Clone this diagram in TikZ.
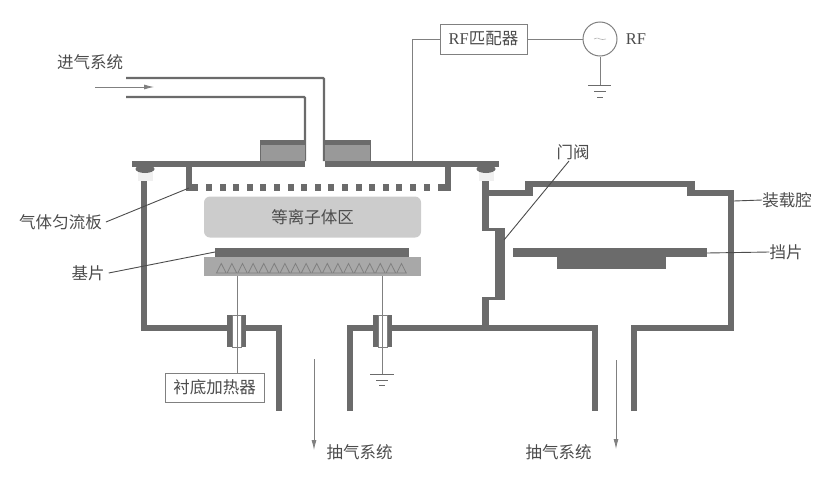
\documentclass[tikz,border=0pt]{standalone}
\usepackage{fontspec}
\setmainfont{Liberation Serif}
\newfontfamily\cjk{Noto Sans CJK SC}
\usetikzlibrary{arrows.meta}
\definecolor{wallc}{gray}{0.42}
\definecolor{thinc}{gray}{0.5}
\definecolor{inkc}{gray}{0.3}
\definecolor{blockc}{gray}{0.6}
\definecolor{heatc}{gray}{0.66}
\definecolor{plasmac}{gray}{0.8}
\tikzset{
  wall/.style={draw=wallc,line width=6.4pt,miter limit=10},
  thinwall/.style={draw=wallc,line width=2.2pt},
  wire/.style={draw=thinc,line width=0.8pt},
  leader/.style={draw=inkc,line width=0.9pt},
  flow/.style={draw=thinc,line width=0.8pt,-{Latex[length=10pt,width=5pt]}},
  lab/.style={font=\cjk\fontsize{16.5}{18}\selectfont,text=inkc,inner sep=0pt},
  boxed/.style={lab,draw=thinc,line width=1pt,fill=white,align=center},
  solid block/.style={fill=wallc,draw=none},
  tri/.style={draw=thinc,line width=0.8pt},
}
\begin{document}
\begin{tikzpicture}[x=1pt,y=-1pt]
\useasboundingbox (0,0) rectangle (819,479);
% gas inlet pipe
\draw[thinwall,rounded corners=1pt] (126,78) -- (324,78) -- (324,161);
\draw[thinwall,rounded corners=1pt] (126,97) -- (305,97) -- (305,161);
\coordinate (inS) at (95,87); \coordinate (inE) at (154,87);
\draw[flow] (inS) -- (inE);
\node[lab] (inlet) at (90,62) {进气系统};
% lid blocks
\fill[blockc] (260,140) rectangle (305,161);
\fill[blockc] (325,140) rectangle (371,161);
\fill[solid block] (260,140) rectangle (305,145);
\fill[solid block] (325,140) rectangle (371,145);
\draw[wallc,line width=1.5pt] (260.7,140) -- (260.7,161) (370.3,140) -- (370.3,161);
% lid
\fill[solid block] (132,161) rectangle (305,166.5);
\fill[solid block] (325,161) rectangle (499,166.5);
% seals
\fill[gray!12] (138,172) rectangle (153,181);
\fill[gray!12] (479,172) rectangle (494,181);
\fill[wallc] (145,169) ellipse [x radius=9.5,y radius=4];
\fill[wallc] (486,169) ellipse [x radius=9.5,y radius=4];
% shower plate
\fill[solid block] (186,166) rectangle (192,190);
\fill[solid block] (186,184) rectangle (198,190.5);
\fill[solid block] (445,166) rectangle (451,190);
\fill[solid block] (438,184) rectangle (451,190.5);
\foreach \k in {0,...,16}
  \fill[solid block] ({206+13.6*\k},184) rectangle ++(6,6.5);
\coordinate (plateEnd) at (189,188);
% plasma
\node[fill=plasmac,rounded corners=6pt,minimum width=217pt,minimum height=41pt,inner sep=0pt] (plasma) at (312.5,217) {};
\node[lab] at (plasma.center) {等离子体区};
% substrate and heater
\fill[heatc] (204,257) rectangle (421,275.5);
\fill[solid block] (215,248) rectangle (409,257);
\coordinate (subEnd) at (215,252);
\foreach \k in {0,...,17}
  \draw[tri] ({216.5+10.6*\k},273) -- ++(4.8,-9.5) -- ++(4.8,9.5) -- cycle;
% chamber walls
\draw[wall] (144,181) -- (144,328) -- (227,328);
\draw[wall] (246,328) -- (279,328) -- (279,411);
\draw[wall] (350,411) -- (350,328) -- (373,328);
\draw[wall] (392,328) -- (595,328) -- (595,411);
\draw[wall] (634,411) -- (634,328) -- (731,328) -- (731,193) -- (690,193);
\draw[wall] (485,193) -- (527,193);
\fill[solid block] (525,181) rectangle (695,187);
\fill[solid block] (525,181) rectangle (533,196);
\fill[solid block] (687,181) rectangle (695,196);
% load-lock wall with gate valve
\draw[wall] (485.5,181) -- (485.5,229);
\draw[wall] (485.5,298) -- (485.5,328);
\fill[solid block] (482.3,227.5) rectangle (504.5,230.5);
\fill[solid block] (494.5,227.5) rectangle (504.5,299.5);
\fill[solid block] (482.3,296.5) rectangle (504.5,299.5);
% shutter
\fill[solid block] (513,248) rectangle (707,256.5);
\fill[solid block] (557,248) rectangle (666,269);
\coordinate (shutterEnd) at (707,253);
% feedthrough flanges
\fill[solid block] (227,315) rectangle (246,347);
\fill[solid block] (373,315) rectangle (392,347);
\draw[fill=white,draw=thinc,line width=0.5pt] (232.5,315) rectangle (241,347);
\draw[fill=white,draw=thinc,line width=0.5pt] (378.5,315) rectangle (387,347);
% heater box and feedthrough wires
\node[boxed,minimum width=99pt,minimum height=29pt] (heater) at (214.5,387.5) {衬底加热器};
\coordinate (hTop) at (237,275.5);
\coordinate (hBot) at (237,373);
\draw[wire] (hTop) -- (hBot);
\coordinate (gTop) at (382,275.5);
\coordinate (gBot) at (382,374);
\draw[wire] (gTop) -- (gBot);
\draw[wallc,line width=1pt] (370,374) -- (394,374) (376,380) -- (388,380) (379,385.5) -- (385,385.5);
% pumps
\coordinate (p1S) at (314,359); \coordinate (p1E) at (314,450);
\coordinate (p2S) at (616,360); \coordinate (p2E) at (616,449);
\draw[flow] (p1S) -- (p1E);
\draw[flow] (p2S) -- (p2E);
\node[lab] (pump1) at (359.5,452) {抽气系统};
\node[lab] (pump2) at (558.5,452) {抽气系统};
% RF
\node[boxed,minimum width=87pt,minimum height=30pt] (match) at (483.5,39) {{\rmfamily RF}匹配器};
\node[circle,draw=thinc,line width=1pt,minimum size=34pt,inner sep=0pt] (rf) at (600,39) {};
\draw[gray!60,line width=0.6pt] (594,39) .. controls (597,37.5) and (599,38) .. (600,39) .. controls (601,39.7) and (604,39.7) .. (606,39);
\node[font=\fontsize{16.5}{18}\selectfont,text=inkc,inner sep=0pt] (rflab) at (636,39) {RF};
\coordinate (lidTap) at (412,161);
\draw[wire] (match.west) -- (412,39) -- (lidTap);
\draw[wire] (match.east) -- (rf.west);
\coordinate (rfG) at (600,85);
\draw[wire] (rf.south) -- (rfG);
\draw[wallc,line width=1pt] (588,85) -- (611,85) (594,91) -- (606,91) (597,97) -- (603,97);
% labels and leaders
\node[lab] (plateLab) at (60.5,222) {气体匀流板};
\draw[leader] (plateLab.east) ++(4,0) -- (plateEnd);
\node[lab] (subLab) at (88,273) {基片};
\draw[leader] (subLab.east) ++(4,0) -- (subEnd);
\node[lab] (valveLab) at (573,152) {门阀};
\coordinate (valveEnd) at (504,240);
\draw[leader] (569,161) -- (valveEnd);
\node[lab] (loadLab) at (787,200) {装载腔};
\coordinate (loadEnd) at (734,201);
\draw[leader] (loadEnd) -- (loadLab.west);
\node[lab] (shLab) at (786,252) {挡片};
\draw[leader] (shutterEnd) -- (shLab.west);
\end{tikzpicture}
\end{document}
